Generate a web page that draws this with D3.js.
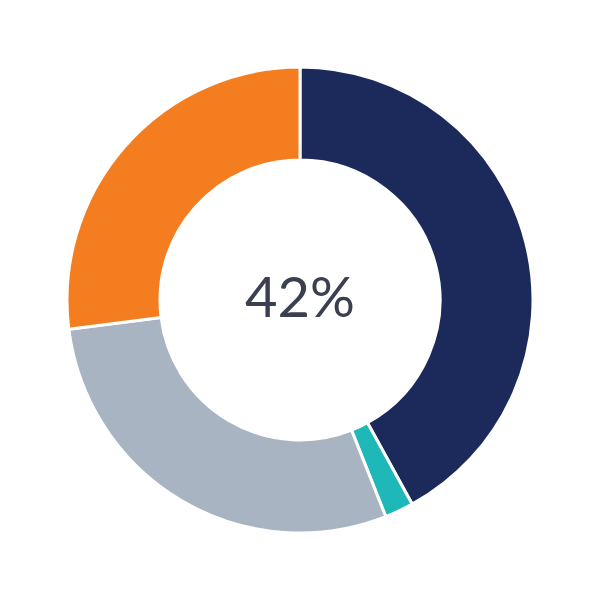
<!DOCTYPE html>
<html>
<head>
<meta charset="utf-8">
<script src="https://cdn.jsdelivr.net/npm/d3@7"></script>
<style>
  body { margin: 0; background: #fff; }
</style>
</head>
<body>
<div id="viz"></div>
<script>
// slice values (percent)
var categories = ['A', 'B', 'C', 'D'];
var values = [42, 2, 29, 27];
var colors = ['#1b2a5a', '#1fb8b8', '#a9b4c3', '#f47d20'];
var centerLabel = '42%';

var width = 600,
    height = 600,
    outer = 233,
    inner = 140;

var svg = d3.select('#viz')
  .append('svg')
  .attr('width', width)
  .attr('height', height);

var g = svg.append('g')
  .attr('transform', 'translate(' + width / 2 + ',' + height / 2 + ')');

var pie = d3.pie().sort(null).value(d => d.value);
var arc = d3.arc().innerRadius(inner).outerRadius(outer);

var data = categories.map((c, i) => ({name: c, value: values[i], color: colors[i]}));

g.selectAll('path')
  .data(pie(data))
  .join('path')
  .attr('d', arc)
  .attr('fill', d => d.data.color)
  .attr('stroke', 'white')
  .attr('stroke-width', 3);

g.append('text')
  .attr('text-anchor', 'middle')
  .attr('dy', '0.35em')
  .attr('y', -3)
  .attr('font-family', 'Lato, sans-serif')
  .attr('font-weight', 400)
  .attr('font-size', 56)
  .attr('fill', '#3b4050')
  .text(centerLabel);
</script>
</body>
</html>
